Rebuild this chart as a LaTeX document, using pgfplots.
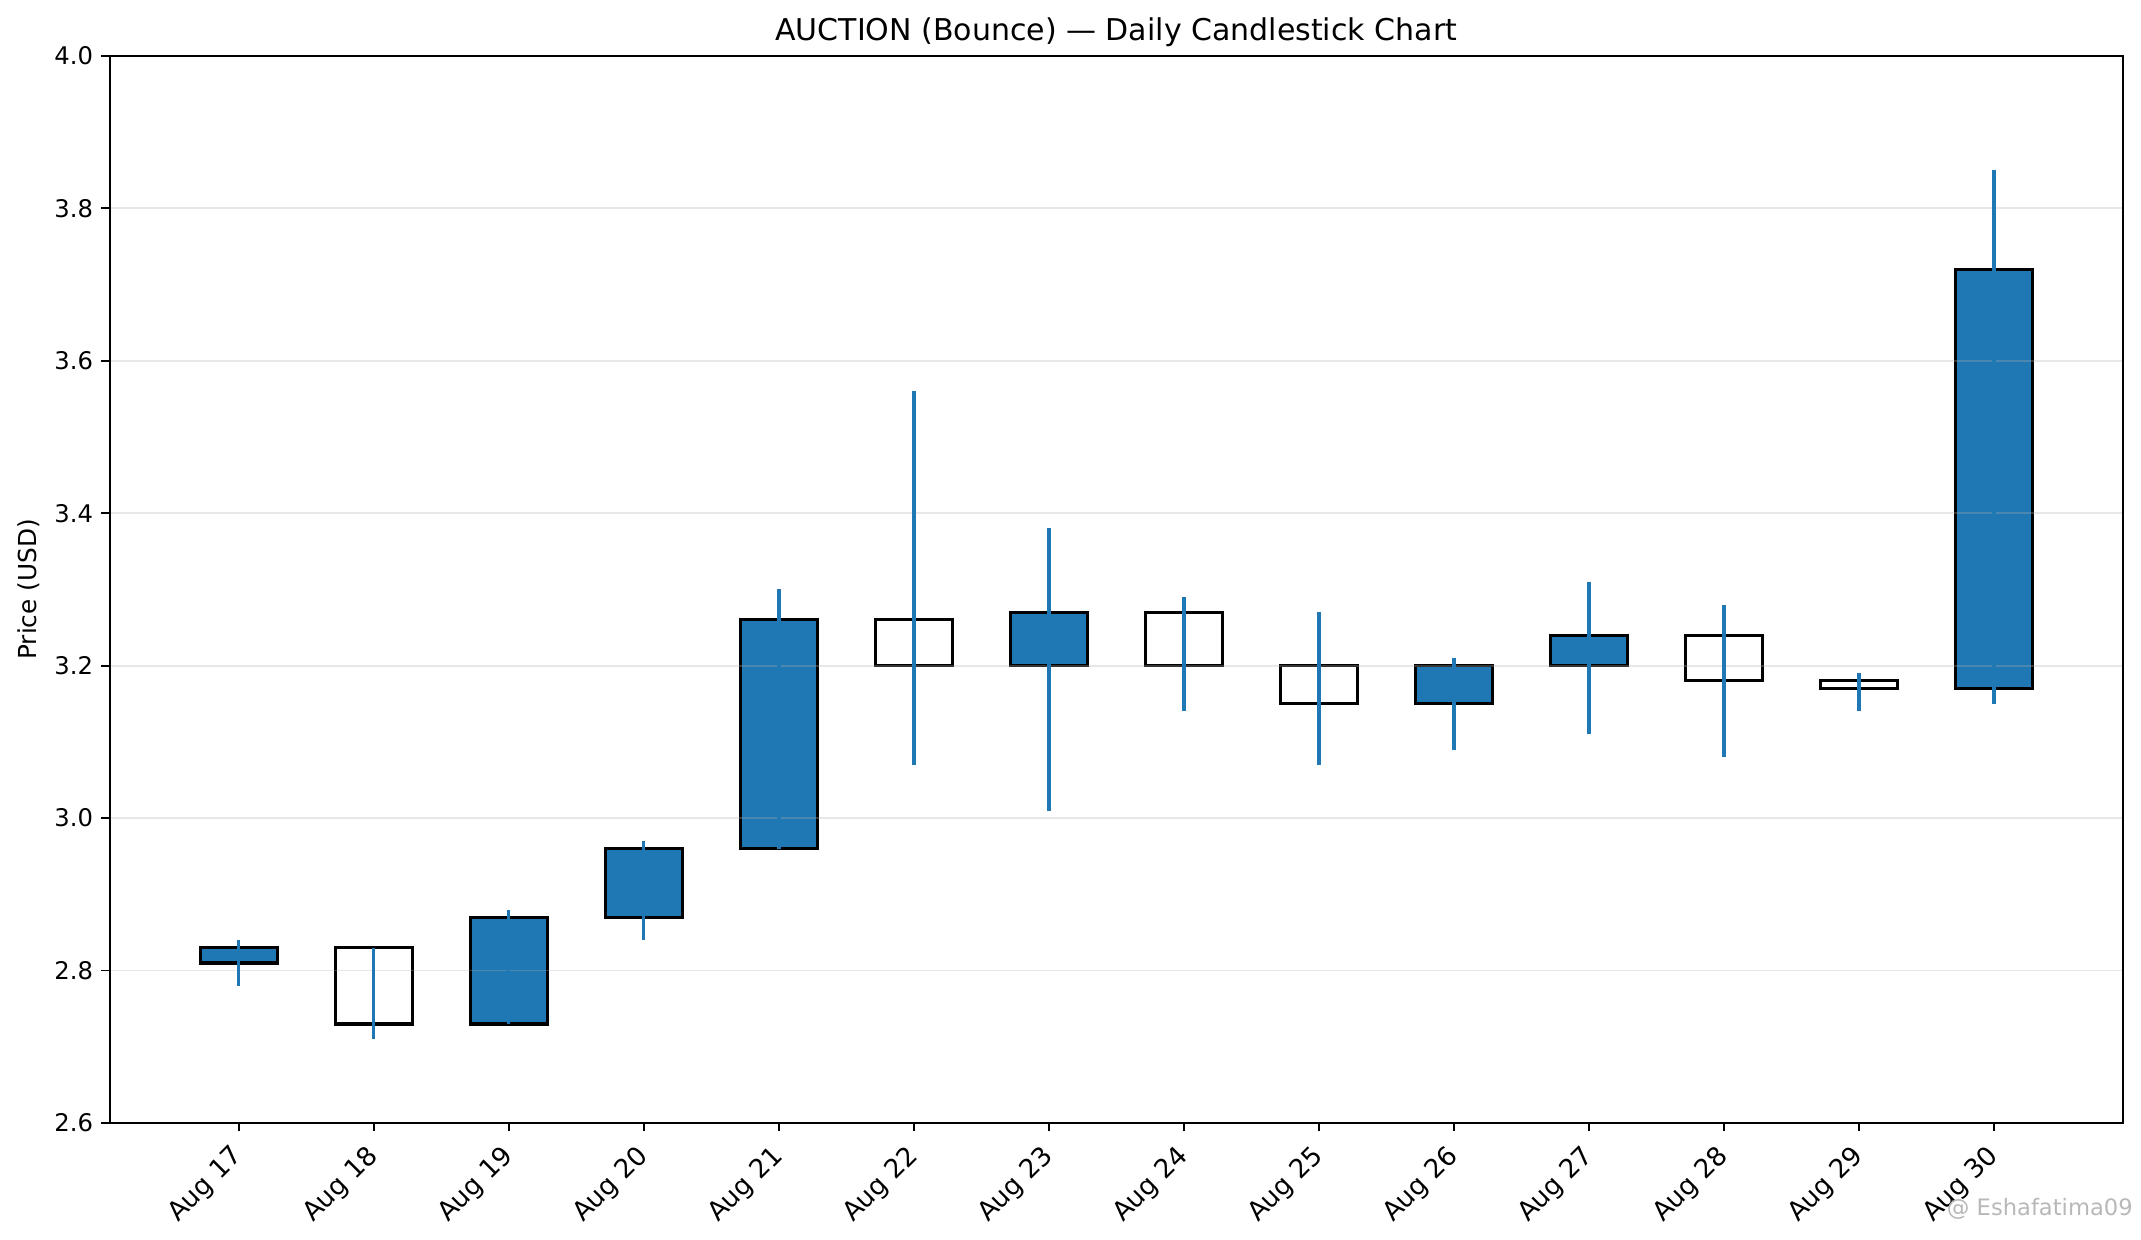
\documentclass[border=0pt]{standalone}
\usepackage{fontspec}
\setmainfont{DejaVu Sans}
\usepackage{pgfplots}
\pgfplotsset{compat=1.18}
\usepackage{pgfplotstable}
\definecolor{C0}{HTML}{1F77B4}
\definecolor{gridc}{HTML}{B0B0B0}

% x: day index; bot/top: body (min/max of open, close); lo/hi: wick; up: 1 = filled (blue) body
\pgfplotstableread{
x  bot   top   lo    hi    up
0  2.81  2.83  2.78  2.84  1
1  2.73  2.83  2.71  2.83  0
2  2.73  2.87  2.73  2.88  1
3  2.87  2.96  2.84  2.97  1
4  2.96  3.26  2.96  3.30  1
5  3.20  3.26  3.07  3.56  0
6  3.20  3.27  3.01  3.38  1
7  3.20  3.27  3.14  3.29  0
8  3.15  3.20  3.07  3.27  0
9  3.15  3.20  3.09  3.21  1
10 3.20  3.24  3.11  3.31  1
11 3.18  3.24  3.08  3.28  0
12 3.17  3.18  3.14  3.19  0
13 3.17  3.72  3.15  3.85  1
}\candles

\pgfplotsset{
  common/.style={
    scale only axis, width=845.4pt, height=448.3pt,
    at={(0pt,0pt)}, anchor=south west,
    xmin=-0.955, xmax=13.955, ymin=2.6, ymax=4.0,
  }
}

\begin{document}
\begin{tikzpicture}
\path[use as bounding box] (-46.1pt,-48.7pt) rectangle (853.1pt,471.7pt);
\begin{axis}[
  common,
  axis on top,
  ybar stacked, bar width=0.57,
  xtick={0,...,13},
  xticklabels={Aug 17,Aug 18,Aug 19,Aug 20,Aug 21,Aug 22,Aug 23,Aug 24,Aug 25,Aug 26,Aug 27,Aug 28,Aug 29,Aug 30},
  ytick={2.6,2.8,3.0,3.2,3.4,3.6,3.8,4.0},
  tick align=outside, tick pos=left,
  major tick length=3.5pt,
  every tick/.style={black, line width=0.7pt},
  axis line style={line width=0.7pt},
  ymajorgrids,
  grid style={gridc, opacity=0.3, line width=0.7pt},
  /pgf/number format/assume math mode=true,
  yticklabel style={font=\fontsize{10.2}{12}\selectfont, /pgf/number format/.cd, fixed, fixed zerofill, precision=1},
  xticklabel style={font=\fontsize{11}{13}\selectfont, xshift=-3.6pt, yshift=-4.8pt, rotate=45, anchor=north east, inner sep=0pt},
  title={AUCTION (Bounce) — Daily Candlestick Chart},
  every axis title/.style={font=\fontsize{12.6}{15}\selectfont, at={(axis description cs:0.5,1)}, anchor=base, yshift=6.3pt},
  ylabel={Price (USD)},
  ylabel style={font=\fontsize{10.4}{12}\selectfont, at={(axis description cs:-0.0402,0.5)}, anchor=center},
]
\addplot[draw=none, fill=none] table[x=x, y=bot] {\candles};
\addplot[draw=black, line width=1.3pt, fill=C0] table[x=x, y expr={\thisrow{up}*(\thisrow{top}-\thisrow{bot})}] {\candles};
\addplot[draw=black, line width=1.3pt, fill=none] table[x=x, y expr={(1-\thisrow{up})*(\thisrow{top}-\thisrow{bot})}] {\candles};
\end{axis}
\begin{axis}[
  common,
  hide axis,
]
\addplot[draw=none, mark=none,
  error bars/.cd, y dir=plus, y explicit,
  error mark=none,
  error bar style={draw=C0, line width=1.5pt, solid}]
  table[x=x, y=lo, y error plus expr={\thisrow{hi}-\thisrow{lo}}] {\candles};
\end{axis}
\node[anchor=base east, text=black!28, font=\fontsize{9.5}{11}\selectfont, inner sep=0pt] at (849.8pt,-38.6pt) {@ Eshafatima09};
\end{tikzpicture}
\end{document}
